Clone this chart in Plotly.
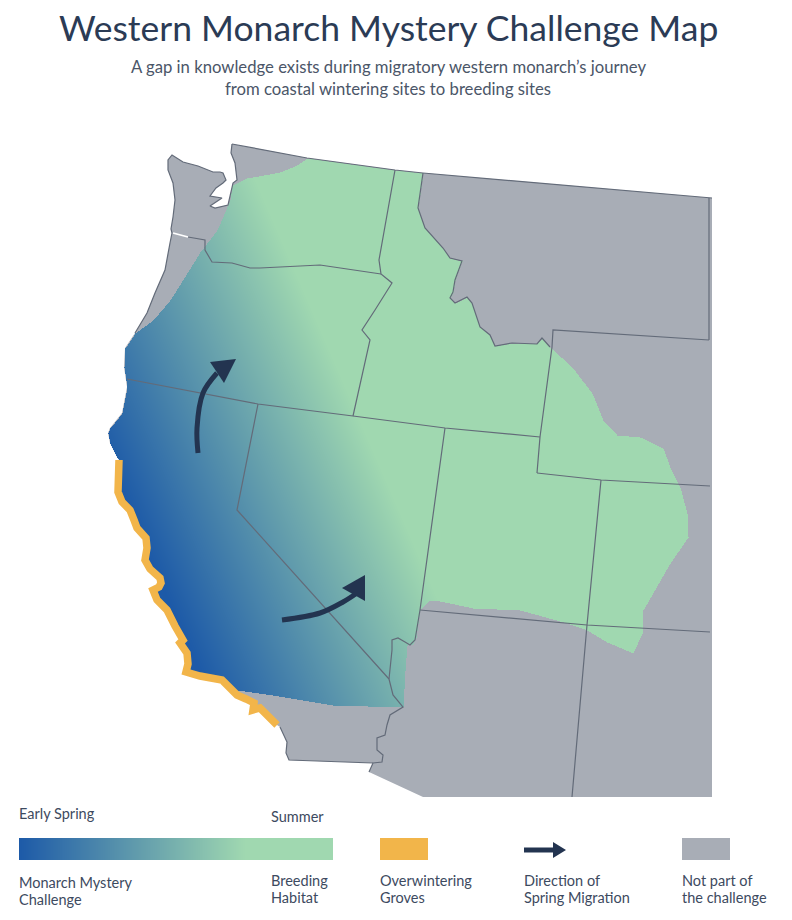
import numpy as np
import plotly.graph_objects as go

W, H = 792, 920
TITLE = "Western Monarch Mystery Challenge Map"
SUB1 = "A gap in knowledge exists during migratory western monarch’s journey"
SUB2 = "from coastal wintering sites to breeding sites"

# coast from the Oregon/California area south, (x, y) picture units
coast_nw = [(135,333),(125,348),(124,367),(127,387),(122,413),(110,428),(108,433),(110,443),(117,457)]
groves = [(119,460),(119,475),(118,492),(122,502),(130,510),(134,520),(137,528),(146,538),(147,548),(145,560),(150,569),
          (160,578),(161,583),(159,587),(153,590),(157,600),(167,610),(175,626),(183,640),(180,643),(187,653),(188,664),
          (186,672),(200,676),(213,678),(222,680),(230,688),(237,695),(246,699),(254,703),(253,710),(260,708),(268,716),(277,725)]
coast_s = [(280,727),(287,742),(286,753),(289,760),(373,763)]
puget_west = [(135,333),(147,313),(155,293),(165,270),(170,243),(172,233),(171,229),(173,217),(175,200),(173,183),(168,170),
              (168,160),(172,155),(183,162),(198,166),(213,172),(220,172),(223,173),(226,180),(223,183),(216,188),(210,196),
              (222,198),(210,206),(215,208),(228,205),(233,183),(237,180),(235,163),(233,158),(231,153),(232,144)]
top_edge = [(232,144),(307,158),(395,170),(423,173),(712,198)]
map_corners = [(712,797),(423,797),(369,772)]

idaho_mt = [(423,173),(418,208),(425,228),(443,248),(450,258),(462,261),(455,280),(453,292),(450,298),(455,303),(467,297),
            (472,303),(480,327),(490,335),(495,346),(512,343),(537,344),(542,338),(550,347)]
green_east = [(572,367),(592,393),(603,420),(617,435),(640,437),(663,448),(670,467),(680,487),(688,517),(688,537),(670,563),
              (643,610),(642,633),(633,653),(607,642),(587,630),(567,623),(520,610),(473,608),(440,601),(428,601),(420,610)]
green_south = [(416,637),(412,645),(407,645),(405,670),(403,707),(333,705),(273,695),(237,690)]
green_north = [(135,333),(153,320),(170,300),(187,273),(200,252),(217,230),(230,200),(232,185),(247,178),(280,172),(297,165),(307,158)]

columbia = [(188,237),(205,240),(205,250),(212,262),(232,263),(250,268),(260,268),(300,266),(320,265),(381,274)]
id_wa = [(395,170),(379,260),(381,274),(392,283),(375,310),(362,330),(370,340),(353,416)]
parallel42 = [(127,379),(258,404),(353,416),(445,428),(540,437)]
nv_west = [(258,404),(237,510),(389,679)]
colorado_r = [(389,679),(392,650),(392,640),(398,638),(405,642),(410,645),(415,640),(420,610),(445,428)]
ca_az = [(389,679),(393,695),(403,707),(390,715),(387,725),(385,735),(377,738),(377,750),(383,755),(382,762),(373,763),(369,772)]
wy_west = [(537,473),(540,437),(552,347),(553,330),(709,340)]
wy_south = [(537,473),(601,480),(710,486)]
co_west = [(601,480),(587,625),(572,797)]
az_north = [(420,610),(587,625),(710,632)]
east_edge = [(709,198),(709,340)]
columbia_white = [(173,233),(181,235),(188,237)]

arrow1_body = [(198,453),(197,428),(203,393),(217,373)]
arrow1_head = [(210,362),(236,359),(224,383)]
arrow2_body = [(282,620),(320,613),(343,602),(357,593)]
arrow2_head = [(365,575),(342,588),(365,601)]
legend_arrow_body = [(524,850),(553,850)]
legend_arrow_head = [(553,842),(566,850),(553,858)]

BLUE, GREEN, GREY, ORANGE, NAVY, EDGE = "#1d5aa8", "#a0d8b0", "#a8adb6", "#f2b54a", "#233450", "#636b79"
T_BLUE, T_GREEN = -85.0, 163.0   # gradient ramp end points

def xy(p):
    return [a for a, _ in p], [b for _, b in p]

def inside(poly, X, Y):
    px, py = np.array(xy(poly), dtype=float)
    res = np.zeros(X.shape, bool)
    n = len(px)
    j = n - 1
    for i in range(n):
        c = (py[i] > Y) != (py[j] > Y)
        xint = (px[j]-px[i]) * (Y-py[i]) / (py[j]-py[i] + 1e-12) + px[i]
        res ^= c & (X < xint)
        j = i
    return res

fig = go.Figure()

def fill(poly, color):
    x, y = xy(poly)
    fig.add_trace(go.Scatter(x=x+[x[0]], y=y+[y[0]], mode="lines", fill="toself", fillcolor=color,
                             line=dict(width=0, color=color), hoverinfo="skip"))

def line(p, color=EDGE, width=1.2, shape="linear"):
    x, y = xy(p)
    fig.add_trace(go.Scatter(x=x, y=y, mode="lines", line=dict(color=color, width=width, shape=shape), hoverinfo="skip"))

# heatmaps are painted under scatter traces, so the grey land is a below-layer shape
outer = top_edge[1:] + map_corners + coast_s[::-1] + groves[::-1] + coast_nw[::-1] + puget_west
fig.add_shape(type="path", layer="below", xref="x", yref="y", fillcolor=GREY, line=dict(width=0),
              path="M" + "L".join(f"{a},{b}" for a, b in outer) + "Z")

region = idaho_mt + green_east + green_south + groves[:28][::-1] + coast_nw[::-1] + green_north + [(395,170)]
gx = np.arange(100, 700, 1.0)
gy = np.arange(150, 720, 1.0)
X, Y = np.meshgrid(gx, gy)
t = np.clip((0.92*X - 0.40*Y - T_BLUE) / (T_GREEN - T_BLUE), 0, 1)
t[~inside(region, X, Y)] = np.nan
scale = [[0, BLUE], [1, GREEN]]
fig.add_trace(go.Heatmap(x=gx, y=gy, z=t, zmin=0, zmax=1, colorscale=scale, showscale=False, hoverinfo="skip"))

for seg in (columbia, id_wa, parallel42, nv_west, colorado_r, ca_az, wy_west, wy_south, co_west, az_north, east_edge):
    line(seg)
line(idaho_mt)
line(puget_west)
line(top_edge)
line(coast_s)
line(columbia_white, "#ffffff", 1.8)
line(groves, ORANGE, 7.5)

line(arrow1_body, NAVY, 5, "spline")
fill(arrow1_head, NAVY)
line(arrow2_body, NAVY, 5, "spline")
fill(arrow2_head, NAVY)

# legend
bx = np.arange(19, 334, 1.0)
bz = np.clip((bx[:-1] - 19) / (245 - 19), 0, 1)
fig.add_trace(go.Heatmap(x=bx, y=[838, 860], z=[bz], zmin=0, zmax=1, colorscale=scale, showscale=False, hoverinfo="skip"))
fill([(380,838),(428,838),(428,860),(380,860)], ORANGE)
fill([(682,838),(730,838),(730,860),(682,860)], GREY)
line(legend_arrow_body, NAVY, 5)
fill(legend_arrow_head, NAVY)

FONT = "Lato"
def text(x, y, s, size, color="#3d4a60", anchor="left"):
    fig.add_annotation(x=x, y=y, text=s, showarrow=False, xref="x", yref="y", xanchor=anchor, yanchor="middle",
                       font=dict(family=FONT, size=size, color=color), align=anchor)

text(388, 27, TITLE, 35.5, "#2b3b55", "center")
text(388, 67, SUB1, 16.7, "#4b5668", "center")
text(388, 89, SUB2, 16.7, "#4b5668", "center")
text(17, 813, "Early Spring", 14.5)
text(269, 816, "Summer", 14.5)
for x, a, b, ya, yb in [(17, "Monarch Mystery", "Challenge", 882, 899),
                        (269, "Breeding", "Habitat", 880, 897),
                        (378, "Overwintering", "Groves", 880, 897),
                        (522, "Direction of", "Spring Migration", 880, 897),
                        (680, "Not part of", "the challenge", 880, 897)]:
    text(x, ya, a, 14.5)
    text(x, yb, b, 14.5)

fig.update_layout(width=W, height=H, margin=dict(l=0, r=0, t=0, b=0), showlegend=False,
                  paper_bgcolor="white", plot_bgcolor="white",
                  xaxis=dict(range=[0, W], visible=False, fixedrange=True),
                  yaxis=dict(range=[H, 0], visible=False, fixedrange=True))
fig.write_html("out.html", config=dict(displayModeBar=False),
               post_script="document.body.style.margin='0';document.body.style.overflow='hidden';")
